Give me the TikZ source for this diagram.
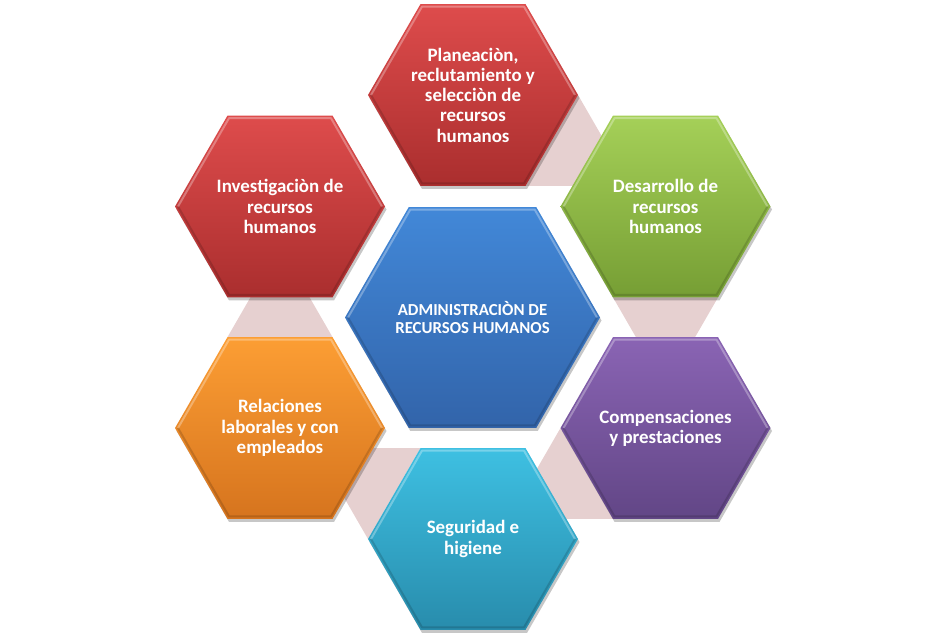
\documentclass[tikz,border=0pt]{standalone}
\usepackage{fontspec}
\setmainfont{Carlito}
\usetikzlibrary{calc}
\definecolor{rojoA}{RGB}{222,76,76}
\definecolor{rojoB}{RGB}{170,46,46}
\definecolor{verdeA}{RGB}{165,208,88}
\definecolor{verdeB}{RGB}{118,158,52}
\definecolor{moradoA}{RGB}{138,100,180}
\definecolor{moradoB}{RGB}{98,70,134}
\definecolor{cianA}{RGB}{62,192,226}
\definecolor{cianB}{RGB}{40,140,172}
\definecolor{naranjaA}{RGB}{252,158,52}
\definecolor{naranjaB}{RGB}{214,116,30}
\definecolor{azulA}{RGB}{66,136,216}
\definecolor{azulB}{RGB}{50,100,170}
\definecolor{rosa}{RGB}{230,208,208}
\begin{document}
\begin{tikzpicture}[x=0.75pt,y=-0.75pt,line join=round,
	rotulo/.style={text=white,align=center,font=\bfseries\fontsize{14.2}{15.2}\selectfont},
	centro/.style={text=white,align=center,font=\bfseries\fontsize{12.6}{13.3}\selectfont}]
	\useasboundingbox (0,0) rectangle (944,641);
	\path
	(472.5,317.5) coordinate (O)
	(473,95) coordinate (P)
	(665.5,206.5) coordinate (D)
	(665.5,428) coordinate (C)
	(473,539) coordinate (S)
	(280,428) coordinate (R)
	(280,206.5) coordinate (I)
	;
	% triangulos de enlace
	\foreach \h/\a in {P/0,D/60,C/120,S/180,R/240}
	\fill[rosa] ($(\h)+(\a:105)$) -- ($(\h)+(\a+60:105)$) -- ($(\h)+(\a:105)+(\a+60:105)$) -- cycle;
	% hexagonos
	\foreach \h/\r/\cA/\cB in {O/127.5/azulA/azulB,P/105/rojoA/rojoB,D/105/verdeA/verdeB,C/105/moradoA/moradoB,S/105/cianA/cianB,R/105/naranjaA/naranjaB,I/105/rojoA/rojoB}{
		\fill[black,opacity=.22] ($(\h)+(1.5,3)$) ++(0:\r) -- ++(120:\r) -- ++(180:\r) -- ++(240:\r) -- ++(300:\r) -- ++(0:\r) -- cycle;
		\shade[top color=\cA,bottom color=\cB] (\h) ++(0:\r) -- ++(120:\r) -- ++(180:\r) -- ++(240:\r) -- ++(300:\r) -- ++(0:\r) -- cycle;
		\draw[white,opacity=.3,line width=1.5pt] ($(\h)+(180:\r-3)$) -- ($(\h)+(240:\r-3)$) -- ($(\h)+(300:\r-3)$) -- ($(\h)+(0:\r-3)$);
		\draw[black,opacity=.15,line width=1.5pt] ($(\h)+(0:\r-3)$) -- ($(\h)+(60:\r-3)$) -- ($(\h)+(120:\r-3)$) -- ($(\h)+(180:\r-3)$);
	}
	\node[centro] (admin) at (O) {ADMINISTRACIÒN DE\\RECURSOS HUMANOS};
	\node[rotulo] (planeacion) at (P) {Planeaciòn,\\reclutamiento y\\selecciòn de\\recursos\\humanos};
	\node[rotulo] (desarrollo) at (D) {Desarrollo de\\recursos\\humanos};
	\node[rotulo] (compensaciones) at (C) {Compensaciones\\y prestaciones};
	\node[rotulo] (seguridad) at (S) {Seguridad e\\higiene};
	\node[rotulo] (relaciones) at (R) {Relaciones\\laborales y con\\empleados};
	\node[rotulo] (investigacion) at (I) {Investigaciòn de\\recursos\\humanos};
\end{tikzpicture}
\end{document}
